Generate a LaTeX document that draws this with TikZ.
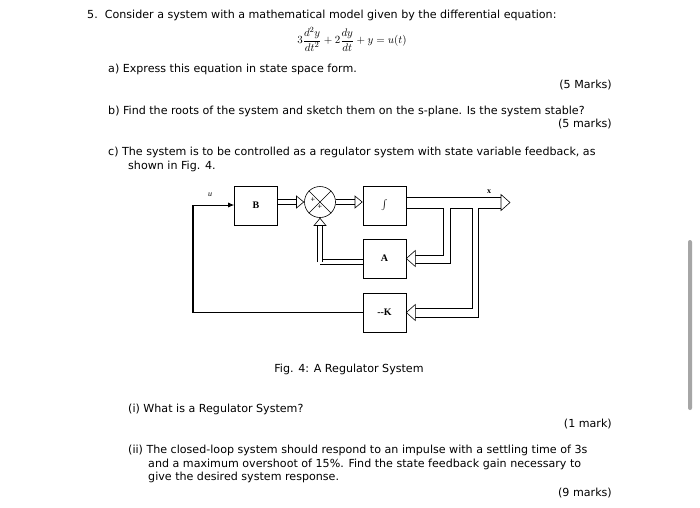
\documentclass[tikz,border=0pt]{standalone}
\usepackage{fontspec}
\setmainfont{DejaVu Sans}
\newfontfamily\tms{Liberation Serif}
\usetikzlibrary{arrows.meta}
\begin{document}
\begin{tikzpicture}[x=1pt,y=-1pt,
  txt/.style={anchor=base west,inner sep=0,font=\fontsize{11.1}{13}\selectfont},
  rtxt/.style={anchor=base east,inner sep=0,font=\fontsize{11.1}{13}\selectfont},
  blk/.style={draw,line width=0.6pt,minimum width=43pt,minimum height=39pt,font=\tms\bfseries\fontsize{10}{12}\selectfont},
  ln/.style={line width=0.6pt},
  dbl/.style={double,double distance=4pt,line width=0.6pt,-{Triangle[open,length=8pt,width=13pt]}},
  dbln/.style={double,double distance=4pt,line width=0.6pt},
  hah/.pic={\draw[fill=white,line width=0.6pt] (0,0)--(-9,-8)--(-9,8)--cycle;}]
\useasboundingbox (0,0) rectangle (700,507);
\fill[white] (0,0) rectangle (700,507);
\fill[gray!70,rounded corners=2pt] (688,240) rectangle (692,410);
\node[txt] (t1) at (87,18) {5.\ \ Consider a system with a mathematical model given by the differential equation:};
\node[anchor=center,inner sep=0,font=\fontsize{11}{12}\selectfont] (eq) at (352,39) {$\displaystyle 3\frac{d^2y}{dt^2}+2\frac{dy}{dt}+y=u(t)$};
\node[txt] (ta) at (108,72) {a) Express this equation in state space form.};
\node[rtxt] (ma) at (612,88) {(5 Marks)};
\node[txt] (tb) at (108,114) {b) Find the roots of the system and sketch them on the s-plane. Is the system stable?};
\node[rtxt] (mb) at (612,127) {(5 marks)};
\node[txt] (tc) at (108,155) {c) The system is to be controlled as a regulator system with state variable feedback, as};
\node[txt] (tc2) at (128,169) {shown in Fig. 4.};
\node[anchor=base,inner sep=0,font=\fontsize{11.1}{13}\selectfont] (cap) at (349,372) {Fig. 4: A Regulator System};
\node[txt] (ti) at (128,412) {(i) What is a Regulator System?};
\node[rtxt] (mi) at (612,427) {(1 mark)};
\node[txt] (tii) at (128,453) {(ii) The closed-loop system should respond to an impulse with a settling time of 3s};
\node[txt] (tii2) at (148,467) {and a maximum overshoot of 15\%. Find the state feedback gain necessary to};
\node[txt] (tii3) at (148,480) {give the desired system response.};
\node[rtxt] (mii) at (612,496) {(9 marks)};
% diagram
\node[blk] (B) at (256,205.5) {B};
\node[blk] (I) at (384.5,205.5) {$\int$};
\node[blk] (A) at (384.5,258.5) {A};
\node[blk] (K) at (384.5,312.5) {--K};
\node[draw,circle,line width=0.6pt,minimum size=31pt,inner sep=0] (S) at (320,202) {};
\draw[line width=0.6pt] (S.45)--(S.225) (S.135)--(S.315);
\node[font=\fontsize{6}{6}\selectfont,inner sep=0] at (313,200) {+};
\node[font=\fontsize{6}{6}\selectfont,inner sep=0] at (320,207) {+};
\coordinate (ab) at (320,262);
\coordinate (ul) at (193,205);
\draw[dbl] (B.east|-S) -- (S.west);
\draw[dbl] (S.east) -- (I.west|-S);
% output bus and feedback branches
\draw[ln] (406,197) -- (501,197);
\draw[ln] (406,208) -- (443,208) -- (443,255) -- (415,255);
\draw[ln] (415,263) -- (450,263) -- (450,208) -- (472,208) -- (472,308) -- (415,308);
\draw[ln] (415,317) -- (478,317) -- (478,208) -- (501,208);
\pic at (510,202.5) {hah};
\pic[rotate=180] at (A.east) {hah};
\pic[rotate=180] at (K.east) {hah};
\draw[dbln] (A.west|-ab) -- (ab);
\draw[dbl] (ab) -- (S.south);
\draw[line width=1.6pt] (K.west) -| (ul);
\draw[line width=0.8pt,-{Latex[length=6pt,width=5pt]}] (ul) -- (B.west|-ul);
\node[font=\tms\itshape\fontsize{8}{8}\selectfont,inner sep=0] (u) at (210,195) {u};
\node[font=\tms\bfseries\fontsize{8}{8}\selectfont,inner sep=0] (x) at (489,192) {x};
\end{tikzpicture}
\end{document}
